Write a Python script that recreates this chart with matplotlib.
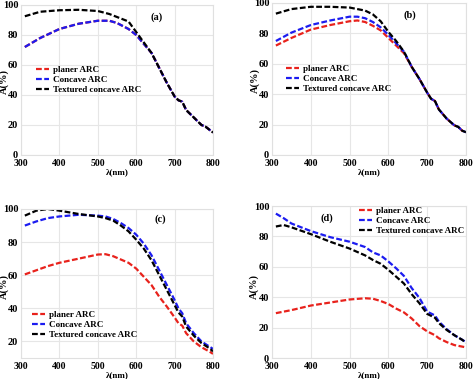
import matplotlib
matplotlib.use('Agg')
import matplotlib.pyplot as plt

plt.rcParams['font.family'] = 'Liberation Serif'
plt.rcParams['font.weight'] = 'bold'

# ---- datos ----
# panel (a)
wl_a = [310, 350, 400, 450, 500, 530, 550, 580, 600, 620, 640, 660, 680, 700, 710, 720, 730, 750, 770, 780, 790, 800]
planer_a = [72, 78, 84, 87.5, 89.5, 89.5, 88, 84, 80, 74, 68, 58, 48, 39, 36.5, 35.5, 30, 25, 20, 19, 17, 15]
concave_a = [72, 78, 84, 87.5, 89.5, 89.5, 88, 84, 80, 74, 68, 58, 48, 39, 36.5, 35.5, 30, 25, 20, 19, 17, 15]
textured_a = [92.5, 95.5, 96.5, 96.8, 96, 94, 92, 89, 82, 75, 68, 58, 48, 39, 36.5, 35.5, 30, 25, 20, 19, 17, 15]

# panel (b)
wl_b = [310, 350, 400, 450, 500, 520, 540, 560, 580, 600, 620, 640, 660, 680, 700, 710, 720, 730, 750, 770, 780, 790, 800]
planer_b = [72, 77, 82.5, 85.5, 88, 88.5, 87.5, 85, 82, 77, 72, 67, 58, 50, 41, 37, 35.5, 30, 24, 19.5, 18.5, 16, 15]
concave_b = [75, 80.5, 85.5, 88.5, 91, 91, 90, 87.5, 84, 79, 73.5, 68, 58, 50, 41, 37, 35.5, 30, 24, 19.5, 18.5, 16, 15]
textured_b = [93, 96, 97.5, 97.5, 97, 96, 95, 92.5, 88, 81, 75, 68, 58, 50, 41, 37, 35.5, 30, 24, 19.5, 18.5, 16, 15]

# panel (c)
wl_c = [310, 340, 370, 400, 450, 500, 520, 540, 560, 580, 600, 620, 640, 660, 680, 700, 710, 720, 730, 750, 770, 790, 800]
planer_c = [60.5, 63, 65.5, 67.5, 70, 72.5, 72.7, 71.5, 69.5, 67.5, 64, 59, 54, 47, 41, 34.5, 31, 29.5, 25, 20, 16.5, 14, 12.5]
concave_c = [90, 92.5, 94.5, 95.5, 96.5, 96, 95.5, 94, 91.5, 88.5, 84.5, 79, 72, 63, 54, 45, 40, 37, 31, 25, 20, 17, 15.5]
textured_c = [96, 99, 100, 99, 97, 95.5, 94.5, 93, 90, 86.5, 81.5, 76, 69, 60, 51, 42, 37.5, 35, 29, 23.5, 19, 16, 14]

# panel (d)
wl_d = [310, 330, 350, 400, 450, 500, 540, 560, 580, 600, 620, 640, 660, 680, 700, 720, 730, 750, 770, 790, 800]
planer_d = [29.5, 30.5, 31.5, 34.5, 36.5, 38.5, 39.3, 39, 37.5, 35.5, 32.5, 30, 26, 21, 17.5, 15, 13, 10.5, 8.5, 7.5, 7]
concave_d = [95, 92, 88.5, 83.5, 79.5, 76.5, 73, 69.5, 67.5, 63.5, 59, 54, 46, 39.5, 30.5, 28, 24, 19, 15, 12, 10.5]
textured_d = [86.5, 87.5, 86, 81.5, 76.5, 72, 67.5, 64.5, 62, 58, 53.5, 49, 42, 36, 29, 26.5, 23, 18.5, 15, 12, 10]

etiquetas = ['planer ARC', 'Concave ARC', 'Textured concave ARC']
colores = ['#e8221c', '#1c1cf0', 'black']

fig = plt.figure(figsize=(4.74, 3.79), dpi=100)

# cada panel: letra, datos, caja en pixeles (izq, der, arriba, abajo), ylim,
# posición de la letra, posición del ylabel (ejes), esquina de la leyenda
paneles = [
    ('(a)', wl_a, [planer_a, concave_a, textured_a], (21, 213, 5, 155), (0, 100), (157, 17), (-0.062, 0.49), (36, 71)),
    ('(b)', wl_b, [planer_b, concave_b, textured_b], (272, 466, 3, 155), (0, 100), (410, 15), (-0.06, 0.49), (286, 70)),
    ('(c)', wl_c, [planer_c, concave_c, textured_c], (21, 213, 209, 358), (10, 100), (160, 219), (-0.062, 0.48), (32, 316)),
    ('(d)', wl_d, [planer_d, concave_d, textured_d], (272, 466, 206, 358), (0, 100), (327, 218), (-0.07, 0.47), (359, 212)),
]

W, H = 474, 379
for nombre, wl, series, caja, ylim, pos_letra, pos_ylabel, pos_leyenda in paneles:
    x0, x1, y0, y1 = caja
    ax = fig.add_axes([x0 / W, 1 - y1 / H, (x1 - x0) / W, (y1 - y0) / H])
    for datos, etiqueta, color in zip(series, etiquetas, colores):
        ax.plot(wl, datos, color=color, linewidth=1.6, linestyle=(0, (2.6, 1.1)), label=etiqueta)
    ax.set_xlim(300, 800)
    ax.set_ylim(*ylim)
    ax.set_xticks([300, 400, 500, 600, 700, 800])
    if ylim[0] == 0:
        ax.set_yticks([0, 20, 40, 60, 80, 100])
    else:
        ax.set_yticks([20, 40, 60, 80, 100])
    ax.tick_params(axis='x', length=0, labelsize=7, pad=3)
    ax.tick_params(axis='y', length=0, labelsize=7.5, pad=2)
    for lab in ax.get_xticklabels() + ax.get_yticklabels():
        lab.set_fontweight('bold')
    ax.grid(True, color='#e6e6e6', linewidth=0.8)
    for sp in ax.spines.values():
        sp.set_color('#e0e0e0')
        sp.set_linewidth(0.8)
    ax.set_xlabel('λ(nm)', fontsize=6.5, fontweight='bold', labelpad=0)
    ax.set_ylabel('A(%)', fontsize=7.5, fontweight='bold')
    ax.yaxis.set_label_coords(*pos_ylabel)
    # letra del panel
    fig.text(pos_letra[0] / W, 1 - pos_letra[1] / H, nombre, fontsize=7.5, fontweight='bold',
             ha='center', va='center')
    # leyenda
    lx, ly = pos_leyenda
    ax.legend(loc='upper left', bbox_to_anchor=((lx - x0) / (x1 - x0), 1 - (ly - 5 - y0) / (y1 - y0)),
              frameon=False, handlelength=1.4, handletextpad=0.5,
              labelspacing=0.15, borderaxespad=0, borderpad=0,
              prop={'weight': 'bold', 'size': 6.5})

fig.savefig('out.png', dpi=100)
